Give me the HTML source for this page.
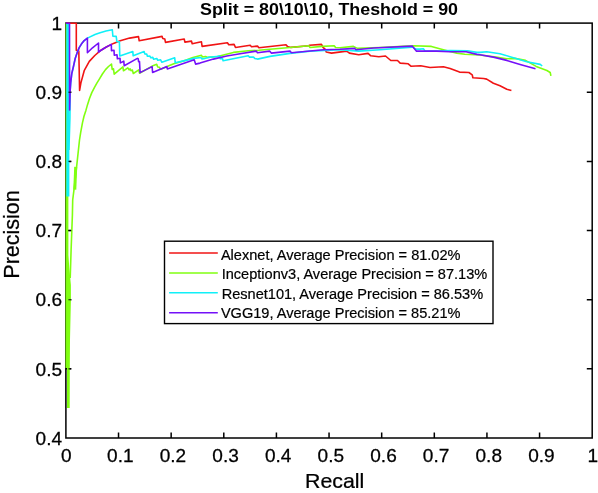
<!DOCTYPE html>
<html><head><meta charset="utf-8"><title>Precision Recall</title>
<style>
html,body{margin:0;padding:0;background:#fff;}
svg{display:block;filter:blur(0.35px);font-family:"Liberation Sans",Arial,Helvetica,sans-serif;}
</style></head>
<body>
<svg width="598" height="493" viewBox="0 0 598 493">
<rect width="598" height="493" fill="#fff"/>
<g fill="none" stroke="#000" stroke-width="1.5">
<rect x="65.9" y="23.1" width="526.30" height="414.90"/>
<path d="M118.53,438.0 v-5.4 M118.53,23.1 v5.4"/><path d="M171.16,438.0 v-5.4 M171.16,23.1 v5.4"/><path d="M223.79,438.0 v-5.4 M223.79,23.1 v5.4"/><path d="M276.42,438.0 v-5.4 M276.42,23.1 v5.4"/><path d="M329.05,438.0 v-5.4 M329.05,23.1 v5.4"/><path d="M381.68,438.0 v-5.4 M381.68,23.1 v5.4"/><path d="M434.31,438.0 v-5.4 M434.31,23.1 v5.4"/><path d="M486.94,438.0 v-5.4 M486.94,23.1 v5.4"/><path d="M539.57,438.0 v-5.4 M539.57,23.1 v5.4"/><path d="M65.9,368.85 h5.4 M592.2,368.85 h-5.4"/><path d="M65.9,299.70 h5.4 M592.2,299.70 h-5.4"/><path d="M65.9,230.55 h5.4 M592.2,230.55 h-5.4"/><path d="M65.9,161.40 h5.4 M592.2,161.40 h-5.4"/><path d="M65.9,92.25 h5.4 M592.2,92.25 h-5.4"/>
</g>
<g fill="none" stroke-width="1.6" stroke-linejoin="round" stroke-linecap="butt">
<polyline stroke="#f01414" points="66.2,23.3 76.3,23.3 76.3,50.2 78.8,51 79.6,90.4 80.9,82.9 84.2,70.7 89.3,61.4 94.8,55.5 100.1,50.8 106.8,46.8 113.5,43.4 120.2,40.7 129.6,38.1 138.5,36.6 139.2,40.8 162.1,36.4 162.8,38.4 164.8,39 165.5,42.4 184.2,39 184.9,42.1 191.5,41.1 192.2,43.7 201.4,41.7 202.1,46.4 227.4,42.7 228.8,44.8 234.1,44.4 235.5,47.5 250.2,45.3 251.5,46.7 257.5,46.1 258.9,47.7 286,44.8 287.4,46.4 291,47.4 308.8,45.7 309.5,45.3 321.5,44.4 322.8,47.1 325.5,49.7 326.2,52 331.5,53.1 346.7,51.1 349.4,53.1 358.7,54.7 368.1,53.4 370.8,55.8 378.8,56.8 385.5,56 390.8,60.5 397.5,60.5 400.2,63.1 408.2,63.8 410.9,66.2 420.7,65.8 430,67.5 443.4,66.7 450.1,68.5 459.5,72.1 468.9,72.5 472.2,74.8 472.9,77.8 483.6,78.5 486.7,79.1 493.4,83.2 500,85.8 506.8,89.2 511.4,90.5"/>
<polygon fill="#80ff10" stroke="none" points="65.3,23.3 68.4,23.3 68.4,255 69.3,268 70.9,285 70.9,300 70,340 69.8,368 69.7,408 67,408 67,368 65.3,368"/>
<polyline stroke="#80ff10" points="70.2,278 71.1,250 72.4,215 72.7,200 74,189.6 76.6,166.9 77.3,160.4 79.5,140 80.7,132.3 82.5,122.6 84,116.3 85.9,110.4 87.6,104.4 89.5,98.5 91.8,92.6 94.5,87.3 97,82.8 99.5,78.8 102.4,74 105.5,69.6 108.5,66.5 111.5,64.1 112.2,69.5 113.5,68.8 114.2,74.2 122.9,66.8 123.5,70.8 127.8,67.9 129.1,69.8 130.1,68.9 131,70.7 132.4,70.1 133.3,73.5 138.8,69.8 139.5,73.2 153.5,65.4 156.7,64.3 157.7,67 159.5,67.3 160.6,69.3 166.9,66.7 168.2,66.1 173.8,63.8 183.5,60.9 192.9,57.5 201.5,55.3 202.4,57 205.6,56.5 207.5,57.4 217.6,56.5 233.4,52.4 248.2,50.7 258.9,50.2 270,49.3 290,47.5 308.8,45.7 310.1,47.5 322.2,46.4 334.2,45.7 335.6,47.5 340,47.7 353.4,46.4 357.4,48.4 380,47.5 412,45.9 414,45.7 431.4,46.4 443.4,49.7 456.8,53.1 464.8,54.2 480,55 496,57.1 506.8,58.8 514.8,58.4 525.5,60.4 536.2,66.4 546.9,70.5 550.2,72.5 550.9,75.8"/>
<polyline stroke="#80ff10" stroke-width="3" points="74.8,189.6 75.7,166.9"/>
<polyline stroke="#10f0f8" stroke-width="3.1" points="67.85,23.3 67.85,196.5"/>
<polyline stroke="#10f0f8" points="68.9,150 69.9,118 70.1,100 70.2,90 70.7,82.9 71.8,73.5 73.4,66.8 75.2,58.5 77.4,52.1 79.2,47.6 81.4,44.1 84.2,40.6 87.4,38.1 95,34.5 100.1,32.7 106,31 112.3,29.7 112.9,36.2 116.2,36.4 116.9,41.6 119.4,41.8 119.8,56 132.8,51.6 133.2,55.8 144.1,51.5 144.8,53.9 146.7,54.1 147.4,56.2 149.9,56 150.8,57.8 152.8,57.4 153.6,59.3 156.8,58.5 157.8,60.3 160.6,59.8 161.9,62.3 174.7,57.8 175.2,62.7 183.5,60.9 194.2,58.4 200.9,57.5 202,58.9 203.8,58.8 208.4,57.4 216.7,56.5 219.8,56.1 220.4,58.8 222.5,58.6 223.1,60.7 248.2,55.8 249.5,57.1 253.5,57.1 254.8,58.4 257.5,59.1 270,56.4 290,53.4 310,51.1 340,49.7 358.7,51.1 380,49.7 412.2,47.1 416.3,49.1 420,49.1 423.4,48.8 425,50.9 436.8,51.1 450.1,50.6 467.5,50.7 476.9,52.4 480,52.4 486.7,51.7 500,53.7 513.4,57.7 526.8,61.8 540.2,64.4 542.2,66"/>
<polyline stroke="#7410f8" points="65.9,23.2 69.5,23.2 69.6,110 70.2,90 70.7,82.9 71.8,73.5 73.4,66.8 75.2,58.5 77.4,52.1 79.2,47.6 81.4,44.1 84.2,40.6 87.4,38.1 87.4,52.8 92.5,47.8 98.5,43 98.5,52.1 101.5,50 105,47.8 108,46.1 111.3,44.4 111.5,50.6 114,50.3 114.3,55.3 117,54.8 117.4,58.8 120,58.2 120.4,62.9 123.8,61.2 124.2,65.8 137.4,58.4 138.2,58.8 138.6,61.6 139.5,61.6 140.1,72.6 152.1,66.6 152.6,72.5 166.9,66.6 167.3,68.9 194.2,59.8 195.6,64.1 200,63.1 213.4,59.1 226.8,56 240.1,53.8 256.2,51.1 257.5,52.8 269.6,51.1 271.3,53.1 290,51.1 291.4,52.8 323.5,49.7 340,49.3 354.7,48.4 356,49.7 373.4,48 412.2,46.1 416.3,51.1 436.8,51.1 450.1,51.8 466.2,51.8 476.9,54.4 480,54.8 493.4,57.1 506.8,60.4 520.1,64.4 535.5,68.7"/>
</g>
<g fill="none" stroke="#000" stroke-width="1.3" opacity="0.75">
<path d="M68.4,368.85 H71.30000000000001"/><path d="M68.4,299.70 H71.30000000000001"/><path d="M68.4,230.55 H71.30000000000001"/><path d="M68.4,161.40 H71.30000000000001"/><path d="M68.4,92.25 H71.30000000000001"/>
</g>
<path d="M65.6,23.3 V408" stroke="#000" stroke-width="0.9" opacity="0.3" fill="none"/>
<g font-size="18px" fill="#000" stroke="#000" stroke-width="0.25">
<text transform="translate(66.40,461.7) scale(1.06,1)" text-anchor="middle">0</text><text transform="translate(120.33,461.7) scale(1.06,1)" text-anchor="middle">0.1</text><text transform="translate(172.96,461.7) scale(1.06,1)" text-anchor="middle">0.2</text><text transform="translate(225.59,461.7) scale(1.06,1)" text-anchor="middle">0.3</text><text transform="translate(278.22,461.7) scale(1.06,1)" text-anchor="middle">0.4</text><text transform="translate(330.85,461.7) scale(1.06,1)" text-anchor="middle">0.5</text><text transform="translate(383.48,461.7) scale(1.06,1)" text-anchor="middle">0.6</text><text transform="translate(436.11,461.7) scale(1.06,1)" text-anchor="middle">0.7</text><text transform="translate(488.74,461.7) scale(1.06,1)" text-anchor="middle">0.8</text><text transform="translate(541.37,461.7) scale(1.06,1)" text-anchor="middle">0.9</text><text transform="translate(592.70,461.7) scale(1.06,1)" text-anchor="middle">1</text>
<text transform="translate(62.1,444.75) scale(1.06,1)" text-anchor="end">0.4</text><text transform="translate(62.1,375.60) scale(1.06,1)" text-anchor="end">0.5</text><text transform="translate(62.1,306.45) scale(1.06,1)" text-anchor="end">0.6</text><text transform="translate(62.1,237.30) scale(1.06,1)" text-anchor="end">0.7</text><text transform="translate(62.1,168.15) scale(1.06,1)" text-anchor="end">0.8</text><text transform="translate(62.1,99.00) scale(1.06,1)" text-anchor="end">0.9</text><text transform="translate(62.1,29.85) scale(1.06,1)" text-anchor="end">1</text>
</g>
<text id="title" transform="translate(329,15.0) scale(1.07,1)" text-anchor="middle" font-size="16.7px" font-weight="bold" fill="#000">Split = 80\10\10, Theshold = 90</text>
<text id="xlab" transform="translate(334.7,487.7) scale(1.055,1)" text-anchor="middle" font-size="20.2px" fill="#000" stroke="#000" stroke-width="0.25">Recall</text>
<text id="ylab" transform="translate(18.8,234.5) rotate(-90) scale(1,1.02)" text-anchor="middle" font-size="21.5px" fill="#000" stroke="#000" stroke-width="0.25">Precision</text>
<rect x="164.5" y="241.2" width="328.5" height="82.4" fill="#fff" stroke="#000" stroke-width="1.4"/>
<g font-size="14.5px" fill="#000" stroke-width="0.2">
<path d="M169.1,253.0 H217.8" stroke="#f01414" stroke-width="1.6" fill="none"/><text stroke="#000" transform="translate(220.9,259.7) scale(1.005,1)">Alexnet, Average Precision = 81.02%</text><path d="M169.1,273.0 H217.8" stroke="#80ff10" stroke-width="1.6" fill="none"/><text stroke="#000" transform="translate(221.7,278.9) scale(1.005,1)">Inceptionv3, Average Precision = 87.13%</text><path d="M169.1,292.7 H217.8" stroke="#10f0f8" stroke-width="1.6" fill="none"/><text stroke="#000" transform="translate(221.7,298.8) scale(1.005,1)">Resnet101, Average Precision = 86.53%</text><path d="M169.1,312.7 H217.8" stroke="#7410f8" stroke-width="1.6" fill="none"/><text stroke="#000" transform="translate(220.9,318.4) scale(1.005,1)">VGG19, Average Precision = 85.21%</text>
</g>
</svg>
</body></html>
